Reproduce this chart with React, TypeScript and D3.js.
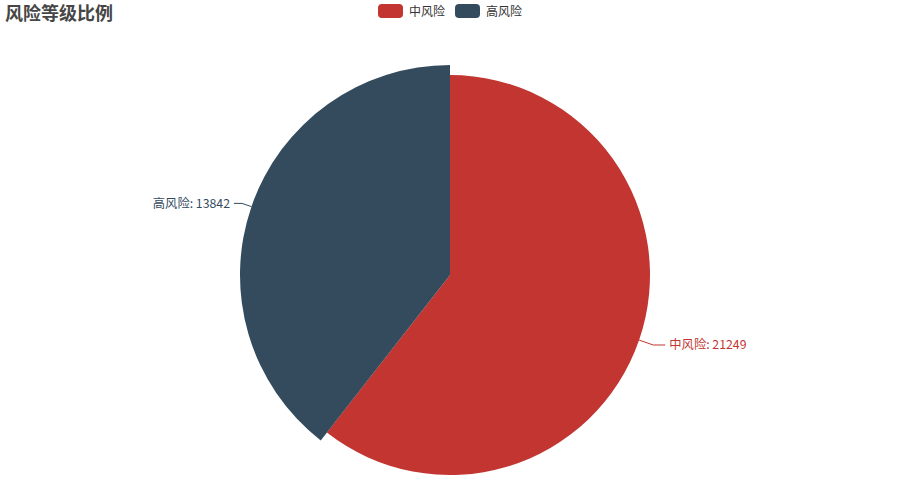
import React from "react";
import * as d3 from "d3";

const categories = ["中风险", "高风险"];
const values = [21249, 13842];
const colors = ["#c23531", "#344b5e"];
const radii = [200, 210];
const titleText = "风险等级比例";

const lineLen1 = [15, 10];
const lineLen2 = [12, 8];

export default function App() {
  const W = 900, H = 500;
  const cx = 450, cy = 275;
  const pie = d3.pie<number>().sort(null).value((d) => d);
  const arcsData = pie(values);
  const font = "'Noto Sans CJK SC', 'Microsoft YaHei', sans-serif";

  return (
    <svg width={W} height={H} style={{ position: "absolute", left: 0, top: 0 }} fontFamily={font}>
      <text x={5} y={20} fontSize={18} fontWeight="bold" fill="#464646">{titleText}</text>
      {categories.map((c, i) => {
        const lx = 378 + i * 77;
        return (
          <g key={c}>
            <rect x={lx} y={4} width={25} height={14} rx={4} fill={colors[i]} />
            <text x={lx + 31} y={15.5} fontSize={12} fill="#333">{c}</text>
          </g>
        );
      })}
      <g transform={`translate(${cx},${cy})`}>
        {arcsData.map((a, i) => {
          const arc = d3.arc<d3.PieArcDatum<number>>().innerRadius(0).outerRadius(radii[i]);
          return <path key={i} d={arc(a) || ""} fill={colors[i]} />;
        })}
        {arcsData.map((a, i) => {
          const mid = (a.startAngle + a.endAngle) / 2;
          const r = radii[i];
          const sx = Math.sin(mid), sy = -Math.cos(mid);
          const p0 = [sx * r, sy * r];
          const p1 = [sx * (r + lineLen1[i]), sy * (r + lineLen1[i])];
          const dir = sx >= 0 ? 1 : -1;
          const p2 = [p1[0] + dir * lineLen2[i], p1[1]];
          return (
            <g key={"l" + i}>
              <polyline points={`${p0[0]},${p0[1]} ${p1[0]},${p1[1]} ${p2[0]},${p2[1]}`} fill="none" stroke={colors[i]} strokeWidth={1} />
              <text x={p2[0] + dir * 4} y={p1[1]} dy="0.35em" fontSize={12.3} fill={colors[i]} textAnchor={dir > 0 ? "start" : "end"}>
                {`${categories[i]}: ${values[i]}`}
              </text>
            </g>
          );
        })}
      </g>
    </svg>
  );
}
